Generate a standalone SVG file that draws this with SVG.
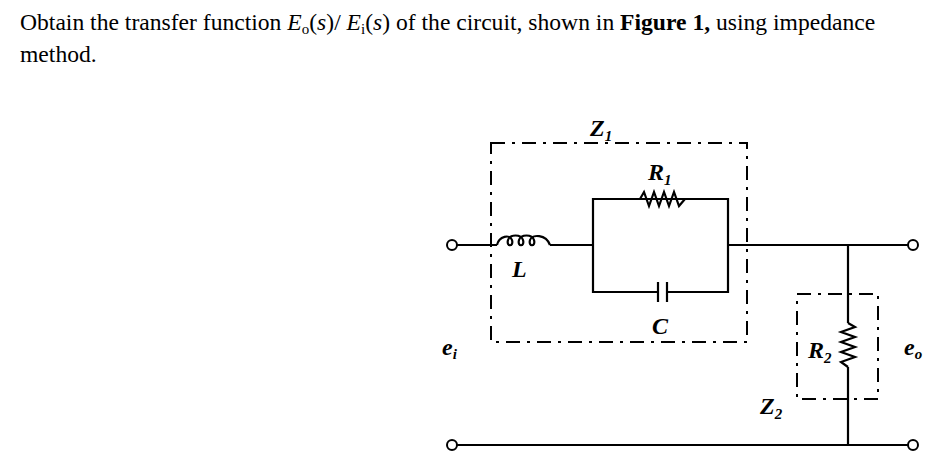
<svg xmlns="http://www.w3.org/2000/svg" width="946" height="465" viewBox="0 0 946 465">
<style>
.w{fill:none;stroke:#000;stroke-width:2.2}
.d{fill:none;stroke:#000;stroke-width:2;stroke-dasharray:14 7 3 7}
.t{font-family:'Liberation Serif','Times New Roman','DejaVu Serif',serif;font-size:23.6px;fill:#000}
.l{font-family:'Liberation Serif','Times New Roman','DejaVu Serif',serif;font-style:italic;font-weight:bold;font-size:24px;fill:#000}
.s{font-size:15px}
.term{fill:#fff;stroke:#000;stroke-width:2}
</style>
<rect width="946" height="465" fill="#fff"/>
<g id="question">
<text class="t" x="20" y="30">Obtain the transfer function <tspan font-style="italic">E</tspan><tspan font-size="15" dy="4">o</tspan><tspan dy="-4">(</tspan><tspan font-style="italic">s</tspan>)/ <tspan font-style="italic">E</tspan><tspan font-size="15" dy="4">i</tspan><tspan dy="-4">(</tspan><tspan font-style="italic">s</tspan>) of the circuit, shown in <tspan font-weight="bold">Figure 1,</tspan> using impedance</text>
<text class="t" x="20" y="62">method.</text>
</g>
<g id="connectors">
<path class="w" d="M457 245 H497 M550 245 H593 M593 199 V292 H728 V199 Z M593 199 H640 M685 199 H728 M728 245 H908 M848 245 V323 M848 367 V445 M457 445 H908"/>
<path class="w" d="M593 292 H658 M667 292 H728"/>
</g>
<g id="L"><path class="w" d="M497 245 C499 236 510 234 512 240 C514 247 506 247 508 240 C510 234 521 234 523 240 C525 247 517 247 519 240 C521 234 532 234 534 240 C536 247 528 247 530 240 C532 234 546 234 550 245"/><text class="l" x="512" y="277">L</text></g>
<g id="R1"><path class="w" d="M640 199 L644 192 L649 206 L654 192 L659 206 L664 192 L669 206 L674 192 L679 206 L685 199"/><text class="l" x="648" y="180">R<tspan class="s" dy="5">1</tspan></text></g>
<g id="C"><rect x="659" y="281" width="7" height="22" fill="#fff"/><path class="w" d="M658 282 V302 M667 282 V302"/><text class="l" x="652" y="334">C</text></g>
<g id="R2"><path class="w" d="M848 323 L855 327 L841 332 L855 337 L841 342 L855 347 L841 352 L855 357 L841 362 L848 367"/><text class="l" x="808" y="358">R<tspan class="s" dy="5">2</tspan></text></g>
<g id="Z1"><rect class="d" x="491" y="143" width="256" height="199"/><text class="l" x="590" y="136">Z<tspan class="s" dy="5">1</tspan></text></g>
<g id="Z2"><rect class="d" x="797" y="294" width="81" height="105"/><text class="l" x="760" y="414">Z<tspan class="s" dy="5">2</tspan></text></g>
<g id="terminals">
<circle class="term" cx="452" cy="245" r="5"/><circle class="term" cx="913" cy="245" r="5"/>
<circle class="term" cx="452" cy="445" r="5"/><circle class="term" cx="913" cy="445" r="5"/>
<text class="l" x="442" y="355">e<tspan class="s" dy="4">i</tspan></text>
<text class="l" x="904" y="355">e<tspan class="s" dy="4">o</tspan></text>
</g>
</svg>
